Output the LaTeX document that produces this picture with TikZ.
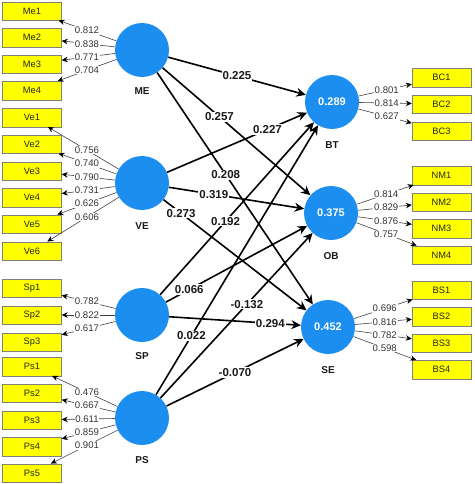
\documentclass[tikz,border=0pt]{standalone}
\usepackage{fontspec}
\setmainfont{Liberation Sans}
\usetikzlibrary{arrows.meta}
\definecolor{lvblue}{RGB}{28,142,240}
\definecolor{mvyellow}{RGB}{255,255,0}
\tikzset{
  lv/.style={circle, fill=lvblue, minimum size=54pt, inner sep=0pt,
    font=\fontsize{11}{13}\selectfont\bfseries, text=white},
  mv/.style={rectangle, fill=mvyellow, draw=black!50, line width=0.4pt,
    minimum width=59pt, minimum height=18.5pt, inner sep=0pt,
    font=\fontsize{9.3}{11}\selectfont, text=black!85},
  lvname/.style={font=\fontsize{10}{12}\selectfont\bfseries, text=black!90},
  load/.style={draw=black!75, line width=0.6pt, -{Stealth[length=6pt,width=5.5pt,color=black]}},
  spath/.style={draw=black, line width=1.6pt, -{Stealth[length=9.5pt,width=9pt]}},
  ldlbl/.style={fill=white, inner sep=0.8pt, font=\fontsize{9.6}{11}\selectfont, text=black!80},
  pclbl/.style={fill=white, inner sep=1pt, font=\fontsize{11.5}{13}\selectfont\bfseries, text=black!90},
}
\begin{document}
\begin{tikzpicture}[x=1pt,y=-1pt]
\path[use as bounding box] (0,0) rectangle (474,484);

% latent variables
\node[lv] (ME) at (142,50) {};
\node[lv] (VE) at (142,183) {};
\node[lv] (SP) at (142,315) {};
\node[lv] (PS) at (142,418) {};
\node[lv] (BT) at (332,102) {0.289};
\node[lv] (OB) at (331,213) {0.375};
\node[lv] (SE) at (328,327) {0.452};

\node[lvname] (MEn) at (142,91) {ME};
\node[lvname] (VEn) at (142,226) {VE};
\node[lvname] (SPn) at (142,356) {SP};
\node[lvname] (PSn) at (142,460) {PS};
\node[lvname] (BTn) at (332,145) {BT};
\node[lvname] (OBn) at (331,256) {OB};
\node[lvname] (SEn) at (328,370) {SE};

% indicators and loadings
\foreach \i/\y/\v in {1/11/0.812, 2/37.5/0.838, 3/64/0.771, 4/90.5/0.704} {
  \node[mv] (Me\i) at (32,\y) {Me\i};
  \draw[load] (ME) -- (Me\i);
  \path (ME.center) -- node[ldlbl] {\v} (Me\i.center);
}
\foreach \i/\y/\v in {1/117.5/0.756, 2/144/0.740, 3/171/0.790, 4/197.5/0.731, 5/224/0.626, 6/251/0.606} {
  \node[mv] (Ve\i) at (32,\y) {Ve\i};
  \draw[load] (VE) -- (Ve\i);
  \path (VE.center) -- node[ldlbl] {\v} (Ve\i.center);
}
\foreach \i/\y/\v in {1/288/0.782, 2/315/0.822, 3/342/0.617} {
  \node[mv] (Sp\i) at (32,\y) {Sp\i};
  \draw[load] (SP) -- (Sp\i);
  \path (SP.center) -- node[ldlbl] {\v} (Sp\i.center);
}
\foreach \i/\y/\v in {1/366.5/0.476, 2/393/0.667, 3/420/0.611, 4/446.5/0.859, 5/473/0.901} {
  \node[mv] (Ps\i) at (32,\y) {Ps\i};
  \draw[load] (PS) -- (Ps\i);
  \path (PS.center) -- node[ldlbl] {\v} (Ps\i.center);
}
\foreach \i/\y/\v in {1/77.5/0.801, 2/104/0.814, 3/131/0.627} {
  \node[mv] (BC\i) at (441.5,\y) {BC\i};
  \draw[load] (BT) -- (BC\i);
  \path (BT.center) -- node[ldlbl] {\v} (BC\i.center);
}
\foreach \i/\y/\v in {1/175.5/0.814, 2/202/0.829, 3/228.5/0.876, 4/255/0.757} {
  \node[mv] (NM\i) at (441.5,\y) {NM\i};
  \draw[load] (OB) -- (NM\i);
  \path (OB.center) -- node[ldlbl] {\v} (NM\i.center);
}
\foreach \i/\y/\v in {1/290/0.696, 2/316.5/0.816, 3/343/0.782, 4/369.5/0.598} {
  \node[mv] (BS\i) at (441.5,\y) {BS\i};
  \draw[load] (SE) -- (BS\i);
  \path (SE.center) -- node[ldlbl] {\v} (BS\i.center);
}

% structural paths
\foreach \a/\b in {ME/BT, ME/OB, ME/SE, VE/BT, VE/OB, VE/SE, SP/BT, SP/OB, SP/SE, PS/BT, PS/OB, PS/SE} {
  \draw[spath] (\a) -- (\b);
}
\foreach \a/\b/\p/\v in {ME/BT/0.5/0.225, ME/OB/0.41/0.257, ME/SE/0.45/0.208,
  VE/BT/0.66/0.227, VE/OB/0.38/0.319, VE/SE/0.21/0.273,
  SP/BT/0.44/0.192, SP/OB/0.25/0.066, SP/SE/0.69/0.294,
  PS/BT/0.26/0.022, PS/OB/0.555/-0.132, PS/SE/0.5/-0.070} {
  \path (\a.center) -- node[pclbl, pos=\p] {\v} (\b.center);
}
\end{tikzpicture}
\end{document}
